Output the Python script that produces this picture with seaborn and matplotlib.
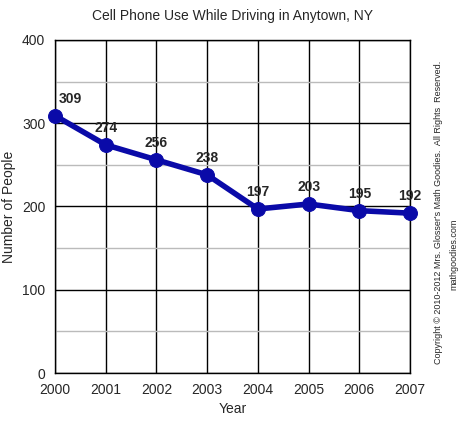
import matplotlib
matplotlib.use('Agg')
import matplotlib.pyplot as plt
import seaborn as sns
import pandas as pd

years = [2000, 2001, 2002, 2003, 2004, 2005, 2006, 2007]
people = [309, 274, 256, 238, 197, 203, 195, 192]

df = pd.DataFrame({'Year': years, 'People': people})

sns.set_style('white')
plt.rcParams['font.family'] = ['Liberation Sans', 'DejaVu Sans']

fig = plt.figure(figsize=(4.74, 4.24), dpi=100)
ax = fig.add_axes([0.116, 0.12, 0.749, 0.786])

sns.lineplot(data=df, x='Year', y='People', ax=ax, color='#0a0aa8', linewidth=4,
             marker='o', markersize=10, markeredgecolor='#0a0aa8')
for ln in ax.lines:
    ln.set_clip_on(False)
    ln.set_zorder(5)

# annotate values
for x, y in zip(years, people):
    ax.text(x + 0.08 if x == 2000 else x, y + 12, str(y), ha='left' if x == 2000 else 'center',
            va='bottom', fontsize=10, fontweight='bold')

ax.set_xlim(2000, 2007)
ax.set_ylim(0, 400)
ax.set_xticks(years)
ax.set_yticks([0, 100, 200, 300, 400])
ax.set_yticks([50, 150, 250, 350], minor=True)
ax.grid(True, which='major', color='black', linewidth=1)
ax.grid(True, which='minor', axis='y', color='#bbbbbb', linewidth=1)
ax.tick_params(labelsize=10)
for s in ax.spines.values():
    s.set_color('black')
    s.set_linewidth(1)

ax.set_title('Cell Phone Use While Driving in Anytown, NY', fontsize=10, pad=14)
ax.set_xlabel('Year', fontsize=10)
ax.set_ylabel('Number of People', fontsize=10)

fig.text(0.925, 0.5, 'Copyright \u00a9 2010-2012 Mrs. Glosser\'s Math Goodies.  All Rights  Reserved.',
         rotation=90, ha='center', va='center', fontsize=6.5)
fig.text(0.958, 0.40, 'mathgoodies.com', rotation=90, ha='center', va='center', fontsize=6.5)

fig.savefig('out.png', dpi=100)
